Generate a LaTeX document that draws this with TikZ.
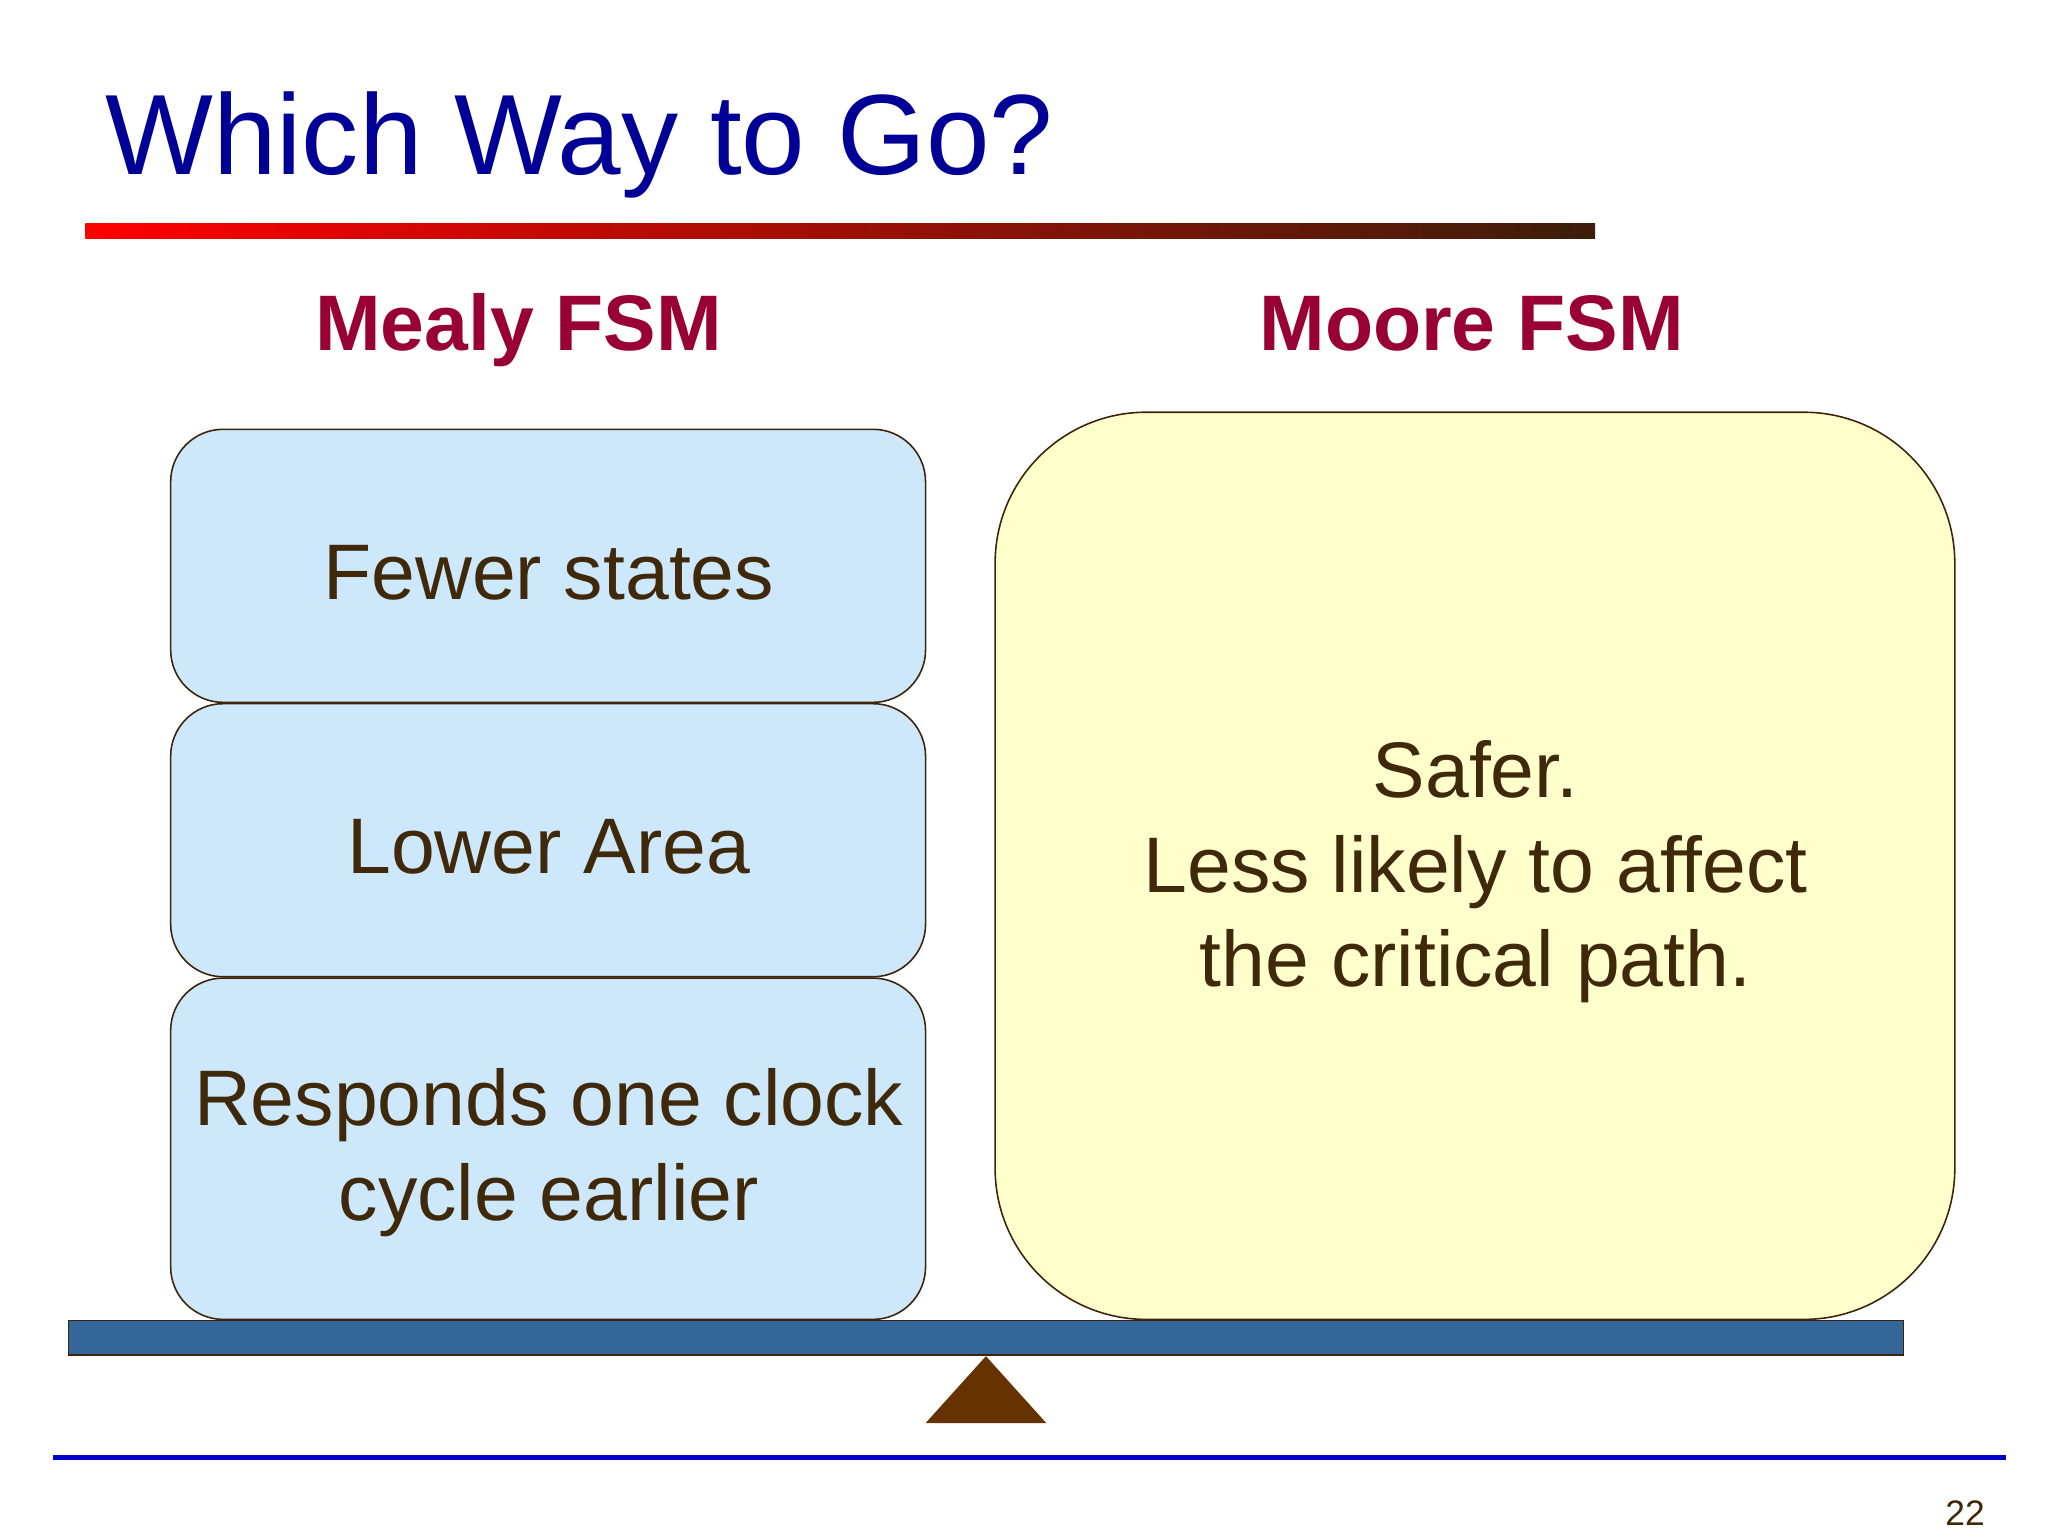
\documentclass[tikz,border=0pt]{standalone}
\usepackage{fontspec}
\setmainfont{Liberation Sans}
\definecolor{ttl}{RGB}{0,0,150}
\definecolor{hd}{RGB}{153,0,51}
\definecolor{tx}{RGB}{64,40,10}
\definecolor{bl}{RGB}{204,232,250}
\definecolor{yl}{RGB}{255,255,204}
\definecolor{bm}{RGB}{51,102,153}
\definecolor{br}{RGB}{102,51,0}
\definecolor{ed}{RGB}{60,35,10}
\begin{document}
\begin{tikzpicture}[x=1pt,y=-1pt,
  box/.style={draw=ed,line width=1.2pt,fill=bl,rounded corners=40pt},
  txt/.style={text=tx,font=\fontsize{60}{72}\selectfont,align=center},
  hdr/.style={text=hd,font=\fontsize{60}{72}\selectfont\bfseries,anchor=base,inner sep=0}]
\useasboundingbox (0,0) rectangle (1560,1170);
\node[anchor=base west,text=ttl,font=\fontsize{87}{96}\selectfont,inner sep=0] (title) at (80,133) {Which Way to Go?};
\shade[left color=red,right color={rgb,255:red,60;green,30;blue,10}] (65,170) rectangle (1215,182);
\node[hdr] (mealy) at (395,267) {Mealy FSM};
\node[hdr] (moore) at (1121,267) {Moore FSM};
\draw[box] (130,327) rectangle (705,535);
\draw[box] (130,536) rectangle (705,744);
\draw[box] (130,745) rectangle (705,1005);
\draw[box,fill=yl,rounded corners=115pt] (758,314) rectangle (1489,1005);
\node[txt] (a) at (418,436) {Fewer states};
\node[txt] (b) at (418,645) {Lower Area};
\node[txt] (c) at (418,878) {Responds one clock\\cycle earlier};
\node[txt] (d) at (1124,664) {Safer.\\Less likely to affect\\the critical path.};
\draw[fill=bm,draw=ed,line width=1pt] (52,1006) rectangle (1450,1032);
\fill[br] (751,1033) -- (797,1084) -- (705,1084) -- cycle;
\draw[draw={rgb,255:red,0;green,0;blue,204},line width=4pt] (40,1110) -- (1528,1110);
\node[anchor=base east,text=tx,font=\fontsize{27}{30}\selectfont,inner sep=0] (pg) at (1512,1162) {22};
\end{tikzpicture}
\end{document}
